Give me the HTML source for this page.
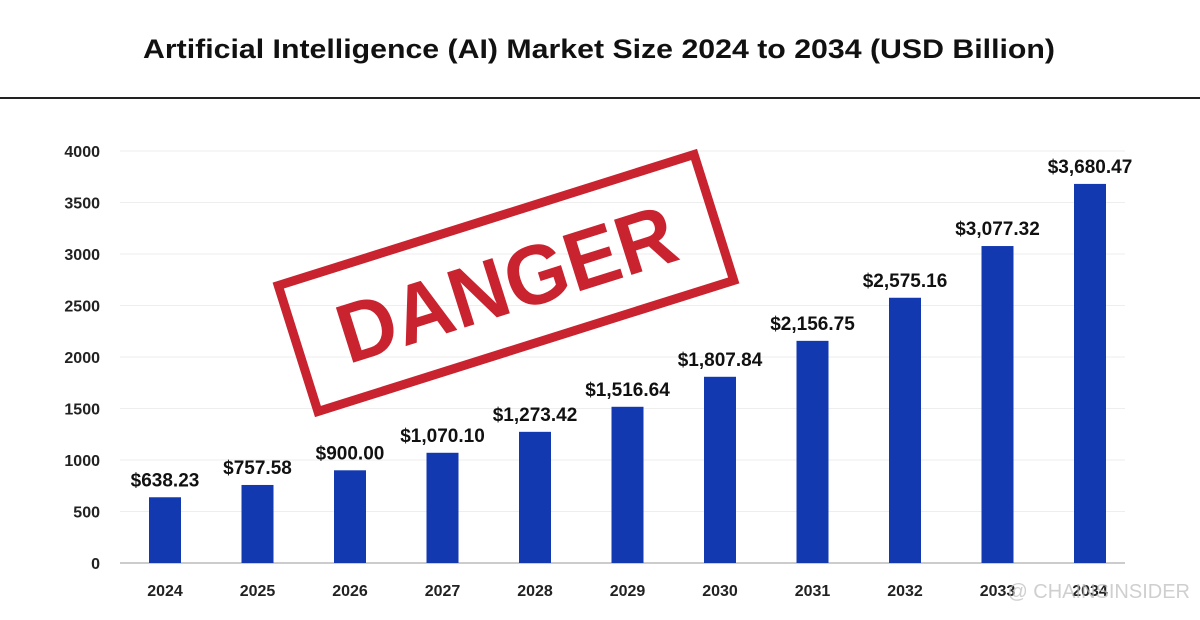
<!DOCTYPE html>
<html><head><meta charset="utf-8"><style>
body{margin:0;background:#fff;width:1200px;height:615px;overflow:hidden;font-family:"Liberation Sans",Arial,sans-serif}
</style></head><body>
<svg width="1200" height="615" id="svg">
<text x="143" y="58" textLength="912" lengthAdjust="spacingAndGlyphs" font-size="27" font-weight="bold" fill="#111">Artificial Intelligence (AI) Market Size 2024 to 2034 (USD Billion)</text>
<line x1="0" y1="98" x2="1200" y2="98" stroke="#222" stroke-width="2"/>
<g id="grid"></g><g id="bars"></g>
<g transform="translate(506,283) rotate(-17.5)">
<rect x="-218" y="-66" width="436" height="132" fill="none" stroke="#c8232f" stroke-width="9"/>
<text x="0" y="30" text-anchor="middle" textLength="350" lengthAdjust="spacingAndGlyphs" font-size="84" font-weight="bold" fill="#c8232f" font-family="Liberation Sans, sans-serif">DANGER</text>
</g>
<text x="1190" y="598" text-anchor="end" font-size="20" fill="#bbb" opacity="0.7">@ CHAINSINSIDER</text>
</svg>
<script>
const categories=["2024","2025","2026","2027","2028","2029","2030","2031","2032","2033","2034"];
const values=[638.23,757.58,900.00,1070.10,1273.42,1516.64,1807.84,2156.75,2575.16,3077.32,3680.47];
const labels=["$638.23","$757.58","$900.00","$1,070.10","$1,273.42","$1,516.64","$1,807.84","$2,156.75","$2,575.16","$3,077.32","$3,680.47"];
const ticks=[0,500,1000,1500,2000,2500,3000,3500,4000];
const NS="http://www.w3.org/2000/svg";
const y=v=>563-v*0.103;
const x=i=>165+i*92.5;
const grid=document.getElementById('grid'),bars=document.getElementById('bars');
function mk(tag,at,p){const e=document.createElementNS(NS,tag);for(const k in at)e.setAttribute(k,at[k]);p.appendChild(e);return e;}
ticks.forEach(t=>{
 const l=mk('line',{x1:120,x2:1125,y1:y(t),y2:y(t),stroke:t?'#eee':'#ccc','stroke-width':t?1:2},grid);
 
 
 const tx=mk('text',{x:100,y:y(t)+6,'text-anchor':'end','font-size':16,'font-weight':'bold',fill:'#222'},grid);
 tx.textContent=t;
 
 
});
categories.forEach((c,i)=>{
 const r=mk('rect',{x:x(i)-16,y:y(values[i]),width:32,height:563-y(values[i]),fill:'#1339b0'},bars);
 
 
 const v=mk('text',{x:x(i),y:y(values[i])-11,'text-anchor':'middle','font-size':19,'font-weight':'bold',fill:'#111'},bars);
 v.textContent=labels[i];
 
 
 const t=mk('text',{x:x(i),y:596,'text-anchor':'middle','font-size':16,'font-weight':'bold',fill:'#222'},bars);
 t.textContent=c;
 
 
});
</script>
</body></html>
